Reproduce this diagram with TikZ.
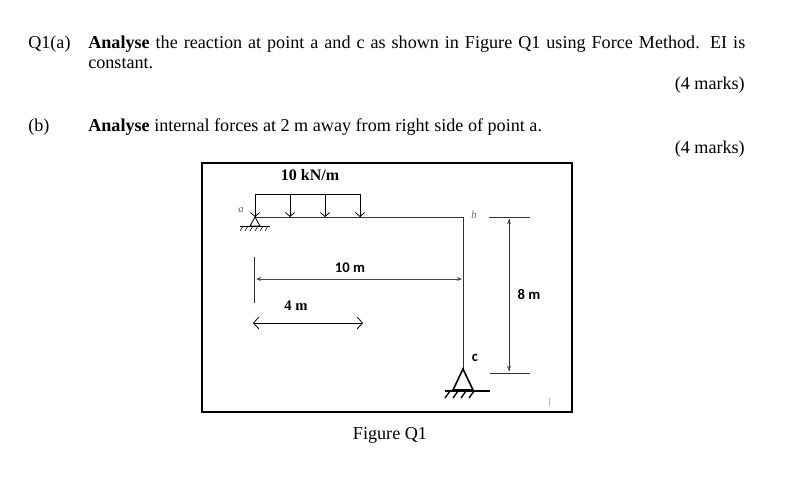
\documentclass[tikz,border=0pt]{standalone}
\usepackage{fontspec}
\setmainfont{Liberation Serif}
\newfontfamily\labfont{Carlito}
\usetikzlibrary{arrows.meta}
\begin{document}
\begin{tikzpicture}[x=0.75pt,y=-0.75pt,
  txt/.style={font=\fontsize{13.6}{15}\selectfont,inner sep=0,anchor=base west},
  lab/.style={font=\labfont\bfseries\fontsize{11}{13}\selectfont,inner sep=1pt},
  thin/.style={line width=0.5pt,draw=black!80},
  dim/.style={line width=0.5pt,draw=black!70,-{Stealth[length=4pt,width=3pt]}},
  load/.style={line width=0.6pt,-{Straight Barb[length=3pt,width=7pt]}}]
\useasboundingbox (0,0) rectangle (787,481);
\node[txt] (qa) at (28,49) {Q1(a)};
\node[txt,text width=657*0.75pt,align=justify] (qat) at (88,49) {\fontsize{13.6}{15}\selectfont\textbf{Analyse} the reaction at point a and c as shown in Figure Q1 using Force Method. EI is\linebreak constant.};
\node[txt,anchor=base east] (m1) at (745,90) {(4 marks)};
\node[txt] (qb) at (28,132) {(b)};
\node[txt] (qbt) at (88,132) {\textbf{Analyse} internal forces at 2 m away from right side of point a.};
\node[txt,anchor=base east] (m2) at (745,153) {(4 marks)};
% frame
\draw[line width=1.3pt] (202,163) rectangle (572,412);
% structure
\coordinate (a) at (255,217);
\coordinate (b) at (463,217);
\coordinate (c) at (463,369);
\draw[thin] (a) -- (b) -- (c);
% load
\draw[line width=0.6pt] (255,217) -- (255,194) -- (360,194) -- (360,217);
\foreach \x in {255,290,325,360} \draw[load] (\x,194) -- (\x,217);
\node[font=\bfseries\fontsize{12}{13}\selectfont] (w) at (310,175) {10 kN/m};
% support a
\draw[line width=0.6pt] (a) -- (250,226) -- (260,226) -- cycle;
\draw[line width=0.5pt] (240,226) -- (270,226);
\foreach \x in {243,248,...,270} \draw[line width=0.4pt] (\x,226) -- ++(-3,5);
\node[font=\itshape\fontsize{8}{9}\selectfont,text=black!60] (la) at (241,210) {a};
\node[font=\itshape\fontsize{8}{9}\selectfont,text=black!60] (lb) at (474,215) {b};
% support c
\draw[line width=1.2pt] (c) -- (453,390) -- (473,390) -- cycle;
\draw[line width=1.2pt] (445,391) -- (490,391);
\foreach \x in {450,458,466,474} \draw[line width=1pt] (\x,391) -- ++(-5,7);
\node[lab] (lc) at (475,358) {c};
% 8 m
\draw[thin] (489,217) -- (530,217);
\draw[thin] (490,373) -- (530,373);
\draw[dim] (509,245) -- (509,219);
\draw[dim] (509,340) -- (509,371);
\draw[thin] (509,219) -- (509,371);
\node[lab,fill=white] (l8) at (529,294) {8 m};
% 10 m
\draw[thin] (254,257) -- (254,303);
\draw[dim] (300,279) -- (256,279);
\draw[dim] (300,279) -- (462,279);
\node[lab] (l10) at (350,268) {10 m};
% 4 m
\draw[line width=0.6pt,{Straight Barb[length=4pt,width=9pt]}-{Straight Barb[length=4pt,width=9pt]}] (253,323) -- (363,323);
\node[font=\bfseries\fontsize{11}{12}\selectfont] (l4) at (296,306) {4 m};
\draw[black!30] (549,398) -- (549,406);
\node[font=\fontsize{13.6}{15}\selectfont] (fig) at (390,435) {Figure Q1};
\end{tikzpicture}
\end{document}
